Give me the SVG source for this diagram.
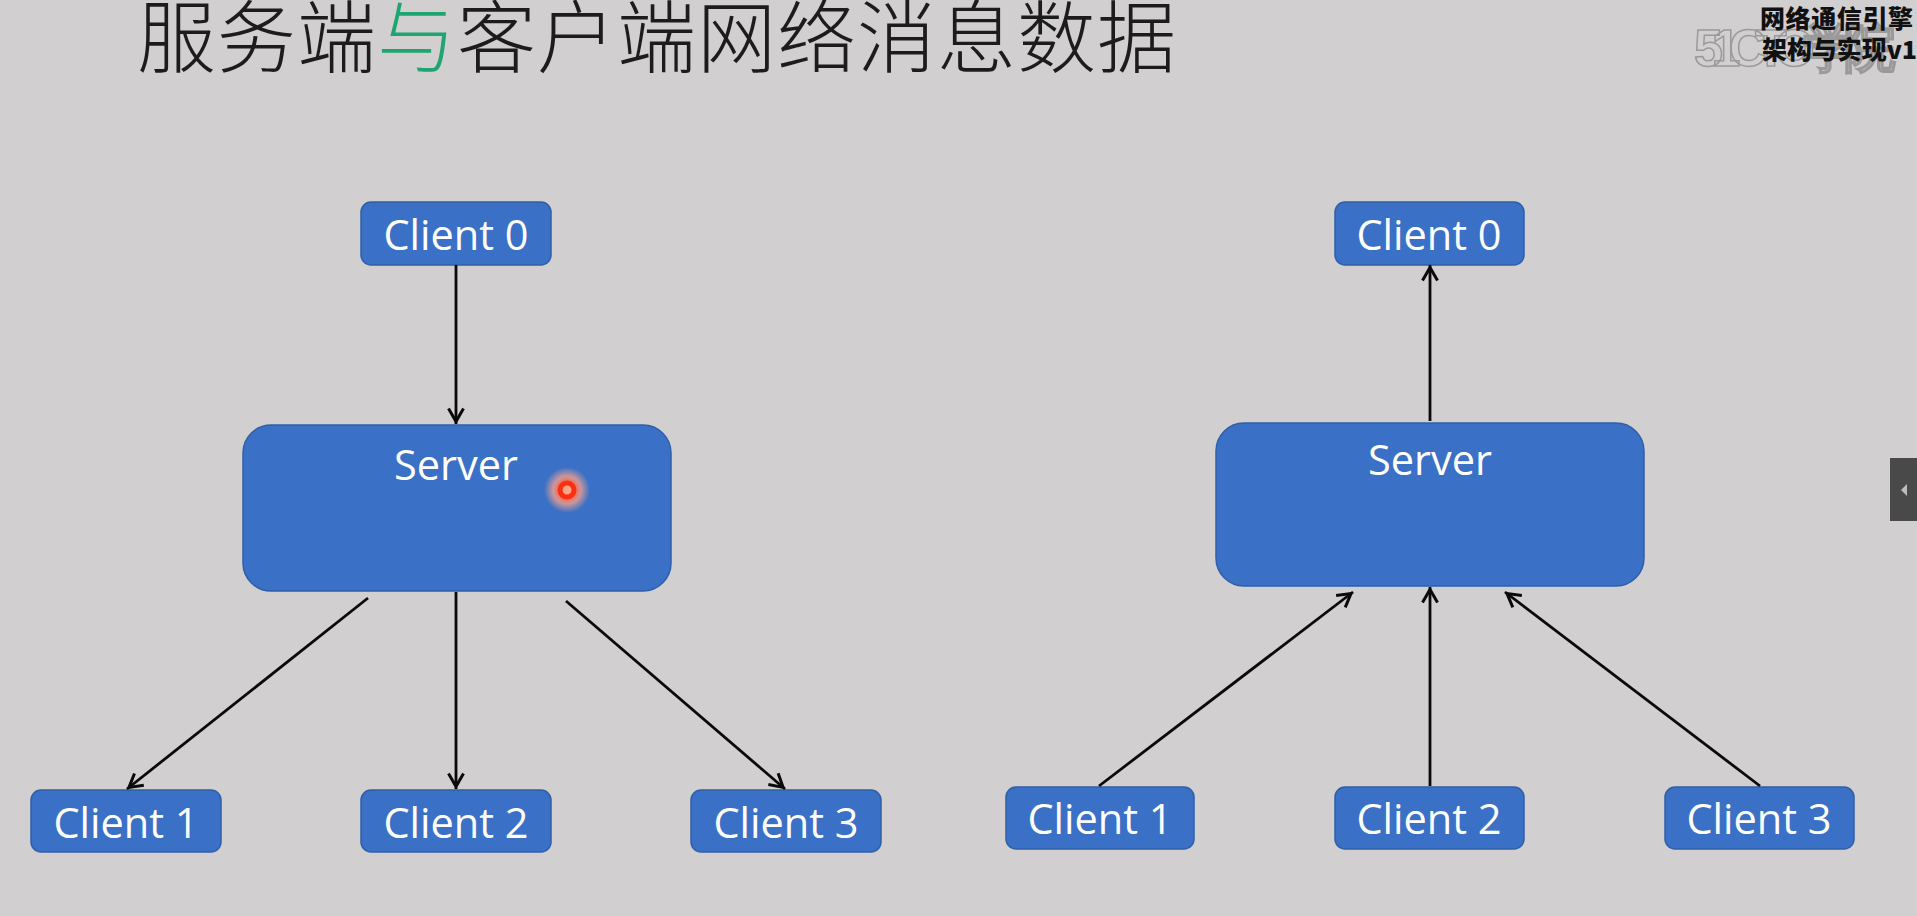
<svg xmlns="http://www.w3.org/2000/svg" width="1917" height="916" viewBox="0 0 1917 916">
<style>
.n{fill:#3a70c6;stroke:#2f5fa8;stroke-width:1.5}
.t{font-family:"Open Sans","Noto Sans",sans-serif;font-size:41.500px;fill:#fff;text-anchor:middle}
.c line{stroke:#0a0a0a;stroke-width:2.800;fill:none}
.h{font-family:"Noto Sans CJK SC",sans-serif;font-size:79px;font-weight:300;fill:#1c1c1c;letter-spacing:1px}
.w{font-family:"Noto Sans CJK SC",serif;font-size:25px;font-weight:900;fill:#111}
</style>
<defs>
<marker id="a" markerUnits="userSpaceOnUse" markerWidth="22" markerHeight="20" refX="18.500" refY="10" orient="auto"><path d="M3 2.500L16 10L3 17.500" fill="none" stroke="#0a0a0a" stroke-width="3"/></marker>
<radialGradient id="g"><stop offset="0.300" stop-color="#ff5a3c"/><stop offset="0.600" stop-color="#f0a090" stop-opacity="0.800"/><stop offset="1" stop-color="#f0a090" stop-opacity="0"/></radialGradient>
</defs>
<rect width="1917" height="916" fill="#d1cfd0"/>
<g id="title"><text class="h" x="137" y="67">服务端<tspan fill="#1fa572">与</tspan>客户端网络消息数据</text></g>
<g id="watermark">
<text x="1694" y="66" font-family="Liberation Sans,sans-serif" font-size="52" font-weight="700" fill="none" stroke="#9a9a9a" stroke-width="1.500" textLength="202">51CTO学院</text>
<text class="w" x="1760" y="28" textLength="153">网络通信引擎</text>
<text class="w" x="1762" y="59" textLength="155">架构与实现v1</text>
</g>
<g id="left-client-0"><rect class="n" x="361" y="202" width="190" height="63" rx="10"/><text class="t" x="456" y="250">Client 0</text></g>
<g id="left-server"><rect class="n" x="243" y="425" width="428" height="166" rx="28"/><text class="t" x="456" y="480">Server</text></g>
<g id="left-client-1"><rect class="n" x="31" y="790" width="190" height="62" rx="10"/><text class="t" x="126" y="838">Client 1</text></g>
<g id="left-client-2"><rect class="n" x="361" y="790" width="190" height="62" rx="10"/><text class="t" x="456" y="838">Client 2</text></g>
<g id="left-client-3"><rect class="n" x="691" y="790" width="190" height="62" rx="10"/><text class="t" x="786" y="838">Client 3</text></g>
<g id="right-client-0"><rect class="n" x="1335" y="202" width="189" height="63" rx="10"/><text class="t" x="1429" y="250">Client 0</text></g>
<g id="right-server"><rect class="n" x="1216" y="423" width="428" height="163" rx="28"/><text class="t" x="1430" y="475">Server</text></g>
<g id="right-client-1"><rect class="n" x="1006" y="787" width="188" height="62" rx="10"/><text class="t" x="1100" y="834">Client 1</text></g>
<g id="right-client-2"><rect class="n" x="1335" y="787" width="189" height="62" rx="10"/><text class="t" x="1429" y="834">Client 2</text></g>
<g id="right-client-3"><rect class="n" x="1665" y="787" width="189" height="62" rx="10"/><text class="t" x="1759" y="834">Client 3</text></g>
<g id="connectors" class="c">
<line x1="456" y1="265" x2="456" y2="424" marker-end="url(#a)"/>
<line x1="368" y1="598" x2="127" y2="789" marker-end="url(#a)"/>
<line x1="456" y1="592" x2="456" y2="789" marker-end="url(#a)"/>
<line x1="566" y1="601" x2="785" y2="789" marker-end="url(#a)"/>
<line x1="1430" y1="421" x2="1430" y2="265" marker-end="url(#a)"/>
<line x1="1099" y1="786" x2="1353" y2="592" marker-end="url(#a)"/>
<line x1="1430" y1="786" x2="1430" y2="587" marker-end="url(#a)"/>
<line x1="1760" y1="786" x2="1505" y2="592" marker-end="url(#a)"/>
</g>
<g id="cursor"><circle cx="567" cy="490" r="23" fill="url(#g)"/><circle cx="567" cy="490" r="7" fill="#f7a68e" stroke="#fb3010" stroke-width="5"/></g>
<g id="side-tab"><rect x="1890" y="458" width="27" height="63" fill="#494949"/><path d="M1907 484L1901 490L1907 496Z" fill="#bdbdbd"/></g>
</svg>
